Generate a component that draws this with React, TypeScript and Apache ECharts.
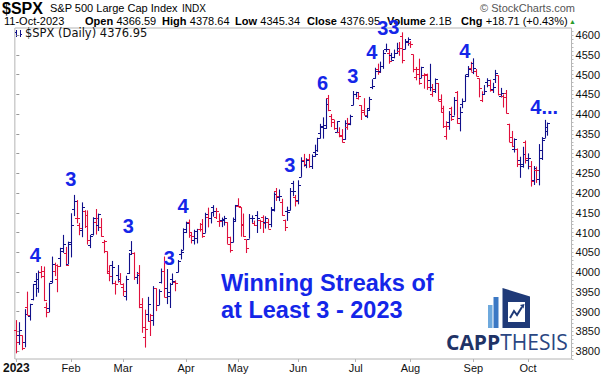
import React, { useEffect, useRef } from "react";
import * as echarts from "echarts";

// ---------- DATA ----------
const prevClose = 3839.5; // close of 30-Dec-2022
// [date, open, high, low, close]
const spxDaily: [string, number, number, number, number][] = [
  ["01-03", 3853.29, 3878.46, 3794.33, 3824.14],
  ["01-04", 3840.36, 3873.16, 3815.77, 3852.97],
  ["01-05", 3839.74, 3839.74, 3802.42, 3808.1],
  ["01-06", 3823.37, 3906.19, 3809.56, 3895.08],
  ["01-09", 3910.82, 3950.57, 3890.42, 3892.09],
  ["01-10", 3888.57, 3919.83, 3877.29, 3919.25],
  ["01-11", 3932.35, 3970.07, 3928.54, 3969.61],
  ["01-12", 3977.57, 3997.76, 3937.56, 3983.17],
  ["01-13", 3960.6, 4003.95, 3947.67, 3999.09],
  ["01-17", 3999.28, 4015.39, 3984.57, 3990.97],
  ["01-18", 4002.25, 4014.16, 3926.59, 3928.86],
  ["01-19", 3911.84, 3922.94, 3885.54, 3898.85],
  ["01-20", 3909.04, 3972.96, 3897.86, 3972.61],
  ["01-23", 3978.14, 4039.31, 3971.64, 4019.81],
  ["01-24", 4001.74, 4023.92, 3989.79, 4016.95],
  ["01-25", 3982.71, 4019.55, 3949.06, 4016.22],
  ["01-26", 4036.08, 4061.57, 4013.29, 4060.43],
  ["01-27", 4053.72, 4094.21, 4048.7, 4070.56],
  ["01-30", 4049.27, 4063.85, 4015.55, 4017.77],
  ["01-31", 4020.85, 4077.16, 4020.44, 4076.6],
  ["02-01", 4070.07, 4148.95, 4037.2, 4119.21],
  ["02-02", 4158.68, 4195.44, 4141.88, 4179.76],
  ["02-03", 4136.69, 4182.36, 4123.36, 4136.48],
  ["02-06", 4119.57, 4124.63, 4093.38, 4111.08],
  ["02-07", 4105.35, 4176.54, 4088.39, 4164.0],
  ["02-08", 4153.47, 4156.85, 4111.67, 4117.86],
  ["02-09", 4144.25, 4156.23, 4069.67, 4081.5],
  ["02-10", 4068.92, 4094.36, 4060.79, 4090.46],
  ["02-13", 4096.62, 4138.9, 4092.67, 4137.29],
  ["02-14", 4126.7, 4159.77, 4095.01, 4136.13],
  ["02-15", 4119.5, 4148.11, 4103.98, 4147.6],
  ["02-16", 4114.75, 4136.54, 4089.49, 4090.41],
  ["02-17", 4077.39, 4081.51, 4047.95, 4079.09],
  ["02-21", 4052.35, 4052.35, 3995.19, 3997.34],
  ["02-22", 4001.83, 4017.37, 3976.9, 3991.05],
  ["02-23", 4018.6, 4028.3, 3969.19, 4012.32],
  ["02-24", 3973.24, 3978.25, 3943.08, 3970.04],
  ["02-27", 3992.36, 4018.05, 3973.55, 3982.24],
  ["02-28", 3977.19, 3997.5, 3968.98, 3970.15],
  ["03-01", 3963.34, 3971.73, 3939.05, 3951.39],
  ["03-02", 3938.68, 3990.84, 3928.16, 3981.35],
  ["03-03", 3998.02, 4048.29, 3995.17, 4045.64],
  ["03-06", 4055.15, 4078.49, 4044.61, 4048.42],
  ["03-07", 4048.26, 4050.0, 3980.31, 3986.37],
  ["03-08", 3987.55, 4000.41, 3969.76, 3992.01],
  ["03-09", 3998.66, 4017.81, 3908.7, 3918.32],
  ["03-10", 3912.77, 3934.05, 3846.32, 3861.59],
  ["03-13", 3835.12, 3905.05, 3808.86, 3855.76],
  ["03-14", 3894.01, 3937.29, 3873.63, 3919.29],
  ["03-15", 3876.74, 3894.26, 3838.24, 3891.93],
  ["03-16", 3878.93, 3964.46, 3864.11, 3960.28],
  ["03-17", 3958.69, 3958.91, 3901.27, 3916.64],
  ["03-20", 3917.47, 3956.62, 3916.89, 3951.57],
  ["03-21", 3975.89, 4009.08, 3971.19, 4002.87],
  ["03-22", 4002.04, 4039.49, 3936.17, 3936.97],
  ["03-23", 3959.21, 4007.66, 3919.05, 3948.72],
  ["03-24", 3939.21, 3972.74, 3909.16, 3970.99],
  ["03-27", 3982.93, 3996.51, 3969.69, 3977.53],
  ["03-28", 3974.13, 3979.2, 3951.53, 3971.27],
  ["03-29", 3999.53, 4030.59, 3999.53, 4027.81],
  ["03-30", 4046.74, 4057.85, 4032.1, 4050.83],
  ["03-31", 4056.18, 4110.75, 4056.18, 4109.31],
  ["04-03", 4102.2, 4127.66, 4098.79, 4124.51],
  ["04-04", 4128.03, 4133.13, 4086.87, 4100.6],
  ["04-05", 4094.5, 4099.69, 4072.56, 4090.38],
  ["04-06", 4081.15, 4107.32, 4069.84, 4105.02],
  ["04-10", 4085.2, 4109.5, 4072.55, 4109.11],
  ["04-11", 4110.29, 4124.26, 4102.61, 4108.94],
  ["04-12", 4121.72, 4134.37, 4086.94, 4091.95],
  ["04-13", 4100.04, 4150.26, 4099.4, 4146.22],
  ["04-14", 4140.11, 4163.19, 4113.2, 4137.64],
  ["04-17", 4137.17, 4151.72, 4123.18, 4151.32],
  ["04-18", 4164.26, 4169.48, 4140.36, 4154.87],
  ["04-19", 4139.33, 4162.57, 4134.49, 4154.52],
  ["04-20", 4130.48, 4148.57, 4114.57, 4129.79],
  ["04-21", 4132.14, 4138.02, 4113.86, 4133.52],
  ["04-24", 4132.07, 4142.41, 4117.77, 4137.04],
  ["04-25", 4126.43, 4126.43, 4071.38, 4071.63],
  ["04-26", 4087.78, 4089.67, 4049.35, 4055.99],
  ["04-27", 4075.29, 4138.24, 4075.29, 4135.35],
  ["04-28", 4129.63, 4170.06, 4127.18, 4169.48],
  ["05-01", 4166.79, 4186.92, 4164.12, 4167.87],
  ["05-02", 4164.1, 4164.1, 4089.72, 4119.58],
  ["05-03", 4122.25, 4148.3, 4088.86, 4090.75],
  ["05-04", 4082.61, 4082.61, 4048.28, 4061.22],
  ["05-05", 4084.73, 4147.02, 4084.73, 4136.25],
  ["05-08", 4136.98, 4143.74, 4124.86, 4138.12],
  ["05-09", 4124.25, 4130.35, 4116.65, 4119.17],
  ["05-10", 4143.74, 4154.28, 4098.92, 4137.64],
  ["05-11", 4132.24, 4132.8, 4109.29, 4130.62],
  ["05-12", 4138.54, 4143.74, 4099.12, 4124.08],
  ["05-15", 4126.65, 4141.25, 4110.27, 4136.28],
  ["05-16", 4127.95, 4135.54, 4109.86, 4109.9],
  ["05-17", 4122.85, 4164.67, 4113.62, 4158.77],
  ["05-18", 4157.68, 4202.2, 4153.5, 4198.05],
  ["05-19", 4204.15, 4212.91, 4180.2, 4191.98],
  ["05-22", 4190.78, 4209.22, 4179.68, 4192.63],
  ["05-23", 4176.8, 4185.68, 4142.54, 4145.58],
  ["05-24", 4132.96, 4132.96, 4103.98, 4115.24],
  ["05-25", 4155.71, 4165.74, 4129.73, 4151.28],
  ["05-26", 4156.16, 4212.87, 4156.16, 4205.45],
  ["05-30", 4226.71, 4231.1, 4192.18, 4205.52],
  ["05-31", 4190.74, 4195.44, 4166.15, 4179.83],
  ["06-01", 4183.03, 4232.43, 4171.64, 4221.02],
  ["06-02", 4241.01, 4290.67, 4241.01, 4282.37],
  ["06-05", 4282.99, 4299.28, 4266.82, 4273.79],
  ["06-06", 4271.34, 4288.33, 4263.09, 4283.85],
  ["06-07", 4285.47, 4299.19, 4263.96, 4267.52],
  ["06-08", 4268.69, 4298.01, 4261.07, 4293.93],
  ["06-09", 4304.88, 4322.62, 4291.7, 4298.86],
  ["06-12", 4308.32, 4340.13, 4304.37, 4338.93],
  ["06-13", 4352.61, 4375.37, 4337.66, 4369.01],
  ["06-14", 4366.29, 4391.82, 4337.85, 4372.59],
  ["06-15", 4365.33, 4439.2, 4362.6, 4425.84],
  ["06-16", 4440.95, 4448.47, 4407.44, 4409.59],
  ["06-20", 4396.11, 4400.15, 4367.19, 4388.71],
  ["06-21", 4380.01, 4386.22, 4360.14, 4365.69],
  ["06-22", 4355.4, 4382.25, 4351.82, 4381.89],
  ["06-23", 4354.17, 4366.55, 4341.34, 4348.33],
  ["06-26", 4344.84, 4362.06, 4328.08, 4328.82],
  ["06-27", 4337.36, 4384.42, 4335.0, 4378.41],
  ["06-28", 4367.48, 4390.35, 4360.22, 4376.86],
  ["06-29", 4374.94, 4398.39, 4371.97, 4396.44],
  ["06-30", 4422.44, 4458.48, 4422.44, 4450.38],
  ["07-03", 4450.48, 4456.46, 4442.29, 4455.59],
  ["07-05", 4442.04, 4454.06, 4436.61, 4446.82],
  ["07-06", 4422.62, 4422.62, 4385.05, 4411.59],
  ["07-07", 4404.54, 4440.39, 4397.4, 4398.95],
  ["07-10", 4394.23, 4412.6, 4389.92, 4409.53],
  ["07-11", 4415.55, 4443.64, 4408.46, 4439.26],
  ["07-12", 4467.69, 4488.34, 4463.23, 4472.16],
  ["07-13", 4491.5, 4517.38, 4489.36, 4510.04],
  ["07-14", 4514.61, 4527.76, 4499.56, 4505.42],
  ["07-17", 4508.86, 4532.85, 4504.9, 4522.79],
  ["07-18", 4521.78, 4562.3, 4514.59, 4554.98],
  ["07-19", 4563.87, 4578.43, 4557.48, 4565.72],
  ["07-20", 4554.38, 4564.74, 4527.56, 4534.87],
  ["07-21", 4550.16, 4555.0, 4535.79, 4536.34],
  ["07-24", 4543.39, 4563.41, 4541.29, 4554.64],
  ["07-25", 4555.19, 4580.62, 4552.42, 4567.46],
  ["07-26", 4558.96, 4582.47, 4547.58, 4566.75],
  ["07-27", 4598.26, 4607.07, 4528.56, 4537.41],
  ["07-28", 4565.75, 4590.16, 4564.01, 4582.23],
  ["07-31", 4584.82, 4594.22, 4573.14, 4588.96],
  ["08-01", 4578.83, 4584.62, 4567.53, 4576.73],
  ["08-02", 4550.93, 4550.93, 4505.75, 4513.39],
  ["08-03", 4494.27, 4519.49, 4485.54, 4501.89],
  ["08-04", 4513.96, 4540.34, 4474.55, 4478.03],
  ["08-07", 4491.58, 4519.84, 4491.15, 4518.44],
  ["08-08", 4498.03, 4503.31, 4464.39, 4499.38],
  ["08-09", 4501.57, 4502.44, 4461.33, 4467.71],
  ["08-10", 4487.16, 4527.37, 4457.92, 4468.83],
  ["08-11", 4450.69, 4476.23, 4443.98, 4464.05],
  ["08-14", 4458.13, 4490.33, 4453.44, 4489.72],
  ["08-15", 4478.87, 4478.87, 4432.19, 4437.86],
  ["08-16", 4433.79, 4449.95, 4403.55, 4404.33],
  ["08-17", 4416.32, 4421.17, 4364.83, 4370.36],
  ["08-18", 4344.88, 4381.82, 4335.31, 4369.71],
  ["08-21", 4380.28, 4407.55, 4360.3, 4399.77],
  ["08-22", 4415.33, 4418.59, 4382.77, 4387.55],
  ["08-23", 4396.44, 4443.18, 4396.44, 4436.01],
  ["08-24", 4455.16, 4458.3, 4375.55, 4376.31],
  ["08-25", 4389.38, 4418.46, 4356.29, 4405.71],
  ["08-28", 4426.03, 4439.56, 4414.98, 4433.31],
  ["08-29", 4432.75, 4500.14, 4431.68, 4497.63],
  ["08-30", 4500.34, 4521.65, 4493.59, 4514.87],
  ["08-31", 4517.01, 4532.26, 4507.39, 4507.66],
  ["09-01", 4530.6, 4541.25, 4501.35, 4515.77],
  ["09-05", 4510.06, 4514.29, 4496.01, 4496.83],
  ["09-06", 4490.35, 4490.35, 4442.38, 4465.48],
  ["09-07", 4434.55, 4457.81, 4430.46, 4451.14],
  ["09-08", 4451.3, 4473.53, 4448.38, 4457.49],
  ["09-11", 4480.98, 4490.77, 4467.89, 4487.46],
  ["09-12", 4473.27, 4487.11, 4456.83, 4461.9],
  ["09-13", 4462.65, 4479.39, 4453.52, 4467.44],
  ["09-14", 4487.78, 4511.99, 4478.69, 4505.1],
  ["09-15", 4497.98, 4497.98, 4447.21, 4450.32],
  ["09-18", 4445.13, 4466.36, 4442.11, 4453.53],
  ["09-19", 4445.41, 4449.85, 4416.61, 4443.95],
  ["09-20", 4452.81, 4461.03, 4401.38, 4402.2],
  ["09-21", 4374.36, 4375.7, 4329.17, 4330.0],
  ["09-22", 4341.74, 4357.4, 4316.49, 4320.06],
  ["09-25", 4310.62, 4338.51, 4302.7, 4337.44],
  ["09-26", 4312.88, 4313.01, 4265.98, 4273.53],
  ["09-27", 4282.63, 4292.07, 4238.63, 4274.51],
  ["09-28", 4269.65, 4317.27, 4264.38, 4299.7],
  ["09-29", 4328.18, 4333.15, 4274.86, 4288.05],
  ["10-02", 4284.52, 4300.58, 4260.21, 4288.39],
  ["10-03", 4269.75, 4281.15, 4216.45, 4229.45],
  ["10-04", 4233.83, 4268.5, 4220.48, 4263.75],
  ["10-05", 4259.31, 4267.13, 4225.91, 4258.19],
  ["10-06", 4234.79, 4324.1, 4219.55, 4308.5],
  ["10-09", 4289.02, 4341.73, 4283.79, 4335.66],
  ["10-10", 4339.75, 4385.46, 4339.64, 4358.24],
  ["10-11", 4366.59, 4378.64, 4345.34, 4376.95],
];

const yTickValues = [3800, 3850, 3900, 3950, 4000, 4050, 4100, 4150, 4200, 4250, 4300, 4350, 4400, 4450, 4500, 4550, 4600];
const monthNames = ["2023", "Feb", "Mar", "Apr", "May", "Jun", "Jul", "Aug", "Sep", "Oct", "Nov", "Dec"];
const headerTitle = ["$SPX", "S&P 500 Large Cap Index", "INDX"];
const headerDate = "11-Oct-2023";
const headerFields: [string, string][] = [
  ["Open", "4366.59"],
  ["High", "4378.64"],
  ["Low", "4345.34"],
  ["Close", "4376.95"],
  ["Volume", "2.1B"],
  ["Chg", "+18.71 (+0.43%)"],
];
const legendText = "$SPX (Daily) 4376.95";
const titleLines = ["Winning Streaks of", "at Least 3 - 2023"];
const minStreak = 3;

// ---------- STYLE ----------
const UP = "#10108a";
const DOWN = "#e0103c";
const NOTE = "#1426e8";
const SANS = "'Liberation Sans', Arial, sans-serif";

export default function App() {
  const ref = useRef<HTMLDivElement>(null);
  useEffect(() => {
    if (!ref.current) return;
    const chart = echarts.init(ref.current, undefined, { renderer: "svg" });

    const bars = spxDaily.map((r, i) => {
      const pc = i === 0 ? prevClose : spxDaily[i - 1][4];
      return [i, r[1], r[2], r[3], r[4], r[4] >= pc ? 1 : 0];
    });
    const notes: any[] = [];
    let run = 0;
    bars.forEach((b, i) => {
      if (b[5] === 1) run++;
      else run = 0;
      const next = bars[i + 1];
      const ends = !next || next[5] === 0;
      if (run >= minStreak && ends) {
        notes.push({ value: [i, b[2]], name: String(run) + (next ? "" : "...") });
      }
    });
    const monthStarts: number[] = [];
    spxDaily.forEach((r, i) => {
      if (i === 0 || r[0].slice(0, 2) !== spxDaily[i - 1][0].slice(0, 2)) monthStarts.push(i);
    });
    const minor: number[] = [];
    for (let v = 3780; v <= 4610; v += 10) minor.push(v);

    const xMin = -0.545;
    const xMax = 202.87;
    const yMin = 3780;
    const yMax = 4618;

    const mid = { verticalAlign: "middle", textVerticalAlign: "middle" };
    const hdrFieldX = [85, 162, 235, 307, 387, 461];
    const graphic: any[] = [
      { type: "text", x: 2, y: 8, style: { text: headerTitle[0], font: `bold 16px ${SANS}`, fill: "#000", ...mid } },
      { type: "text", x: 50, y: 8, style: { text: headerTitle[1], font: `11px ${SANS}`, fill: "#000", ...mid } },
      { type: "text", x: 182, y: 8, style: { text: headerTitle[2], font: `10px ${SANS}`, fill: "#000", ...mid } },
      { type: "text", x: 575, y: 8, style: { text: "\u00A9 StockCharts.com", font: `11px ${SANS}`, fill: "#555", align: "right", textAlign: "right", ...mid } },
      { type: "text", x: 4, y: 21, style: { text: headerDate, font: `11px ${SANS}`, fill: "#000", ...mid } },
      { type: "text", x: 569, y: 21, style: { text: "\u25B2", font: `7px ${SANS}`, fill: "#2a9a2a", ...mid } },
      // legend inside plot
      { type: "line", shape: { x1: 16.5, y1: 30, x2: 16.5, y2: 37 }, style: { stroke: UP, lineWidth: 1 } },
      { type: "line", shape: { x1: 20.5, y1: 30, x2: 20.5, y2: 37 }, style: { stroke: UP, lineWidth: 1 } },
      { type: "line", shape: { x1: 15, y1: 32.5, x2: 16.5, y2: 32.5 }, style: { stroke: UP, lineWidth: 1 } },
      { type: "line", shape: { x1: 20.5, y1: 34.5, x2: 22, y2: 34.5 }, style: { stroke: UP, lineWidth: 1 } },
      { type: "text", x: 25, y: 33, style: { text: legendText, font: `11.5px 'DejaVu Sans', Verdana, sans-serif`, fill: "#111", ...mid } },
      // title
      { type: "text", x: 221, y: 283, style: { text: titleLines[0], font: `bold 23.5px ${SANS}`, fill: NOTE, ...mid } },
      { type: "text", x: 221, y: 310, style: { text: titleLines[1], font: `bold 23.5px ${SANS}`, fill: NOTE, ...mid } },
      // logo icon
      { type: "rect", shape: { x: 488, y: 305, width: 4.5, height: 23 }, style: { fill: "#6ea9dd" } },
      { type: "rect", shape: { x: 493.5, y: 297, width: 5, height: 31 }, style: { fill: "#3b78c4" } },
      { type: "polygon", shape: { points: [[502.5, 288], [530, 296.5], [530, 328], [502.5, 328]] }, style: { fill: "#1f3a78" } },
      { type: "rect", shape: { x: 508, y: 302, width: 17, height: 20 }, style: { fill: "#fff" } },
      { type: "polyline", shape: { points: [[510, 318], [514, 311], [517, 315], [522, 307]] }, style: { stroke: "#1f3a78", lineWidth: 2, fill: null } },
      { type: "polygon", shape: { points: [[520, 305], [524.5, 304], [523.5, 308.5]] }, style: { fill: "#1f3a78" } },
      {
        type: "text", x: 446, y: 342,
        style: {
          text: "{a|CAPP}{b|THESIS}",
          ...mid,
          rich: {
            a: { font: `bold 21px 'Open Sans', sans-serif`, fill: "#1f3366", color: "#1f3366" },
            b: { font: `21px 'Open Sans', sans-serif`, fill: "#2a4682", color: "#2a4682" },
          },
        },
      },
    ];
    headerFields.forEach((f, i) => {
      graphic.push({
        type: "text", x: hdrFieldX[i], y: 21,
        style: {
          text: `{b|${f[0]}} {n|${f[1]}}`,
          ...mid,
          rich: {
            b: { font: `bold 11px ${SANS}`, fill: "#000", color: "#000" },
            n: { font: `11px ${SANS}`, fill: "#000", color: "#000" },
          },
        },
      });
    });

    chart.setOption({
      animation: false,
      backgroundColor: "#fff",
      grid: { left: 13, right: 30, top: 28, bottom: 15, show: true, borderColor: "#b4b4b4", borderWidth: 1, backgroundColor: "transparent" },
      xAxis: {
        type: "value",
        min: xMin,
        max: xMax,
        splitLine: { show: false },
        axisLine: { show: false },
        axisTick: { show: true, customValues: monthStarts, length: 3, lineStyle: { color: "#b4b4b4" } },
        axisLabel: {
          customValues: monthStarts,
          margin: 3,
          formatter: (v: number) => {
            const m = parseInt(spxDaily[Math.round(v)][0].slice(0, 2), 10) - 1;
            return m === 0 ? `{y|${monthNames[0]}}` : monthNames[m];
          },
          fontFamily: SANS,
          fontSize: 11,
          color: "#111",
          rich: { y: { fontFamily: SANS, fontSize: 12, fontWeight: "bold", color: "#111" } },
        },
      },
      yAxis: [
        {
          type: "value",
          position: "right",
          min: yMin,
          max: yMax,
          splitLine: { show: false },
          axisLine: { show: false },
          axisTick: { show: true, customValues: yTickValues, length: 3, lineStyle: { color: "#999" } },
          axisLabel: { customValues: yTickValues, margin: 4, fontFamily: SANS, fontSize: 11, color: "#111", formatter: (v: number) => String(v) },
        },
        {
          type: "value",
          position: "right",
          min: yMin,
          max: yMax,
          splitLine: { show: false },
          axisLine: { show: false },
          axisTick: { show: true, customValues: minor, length: 2, lineStyle: { color: "#bbb" } },
          axisLabel: { show: false },
        },
      ],
      series: [
        {
          type: "custom",
          data: bars,
          clip: true,
          renderItem: (params: any, api: any) => {
            const x = api.value(0);
            const pO = api.coord([x, api.value(1)]);
            const pH = api.coord([x, api.value(2)]);
            const pL = api.coord([x, api.value(3)]);
            const pC = api.coord([x, api.value(4)]);
            const col = api.value(5) === 1 ? UP : DOWN;
            const cx = Math.round(pH[0]) + 0.5;
            const oy = Math.round(pO[1]) + 0.5;
            const cy = Math.round(pC[1]) + 0.5;
            return {
              type: "group",
              children: [
                { type: "line", shape: { x1: cx, y1: pH[1], x2: cx, y2: pL[1] }, style: { stroke: col, lineWidth: 1.1 } },
                { type: "line", shape: { x1: cx - 2.5, y1: oy, x2: cx, y2: oy }, style: { stroke: col, lineWidth: 1 } },
                { type: "line", shape: { x1: cx, y1: cy, x2: cx + 2.5, y2: cy }, style: { stroke: col, lineWidth: 1 } },
              ],
            };
          },
          z: 2,
        },
        {
          type: "scatter",
          data: notes,
          symbolSize: 1,
          itemStyle: { color: "rgba(0,0,0,0)", opacity: 1 },
          label: {
            show: true,
            formatter: (p: any) => p.name,
            position: "top",
            distance: 5,
            offset: [-3, 0],
            fontFamily: SANS,
            fontSize: 20,
            fontWeight: "bold",
            color: NOTE,
            opacity: 1,
          },
          z: 3,
        },
      ],
      graphic,
    });
    return () => chart.dispose();
  }, []);
  return <div ref={ref} style={{ position: "fixed", left: 0, top: 0, width: 603, height: 374 }} />;
}
